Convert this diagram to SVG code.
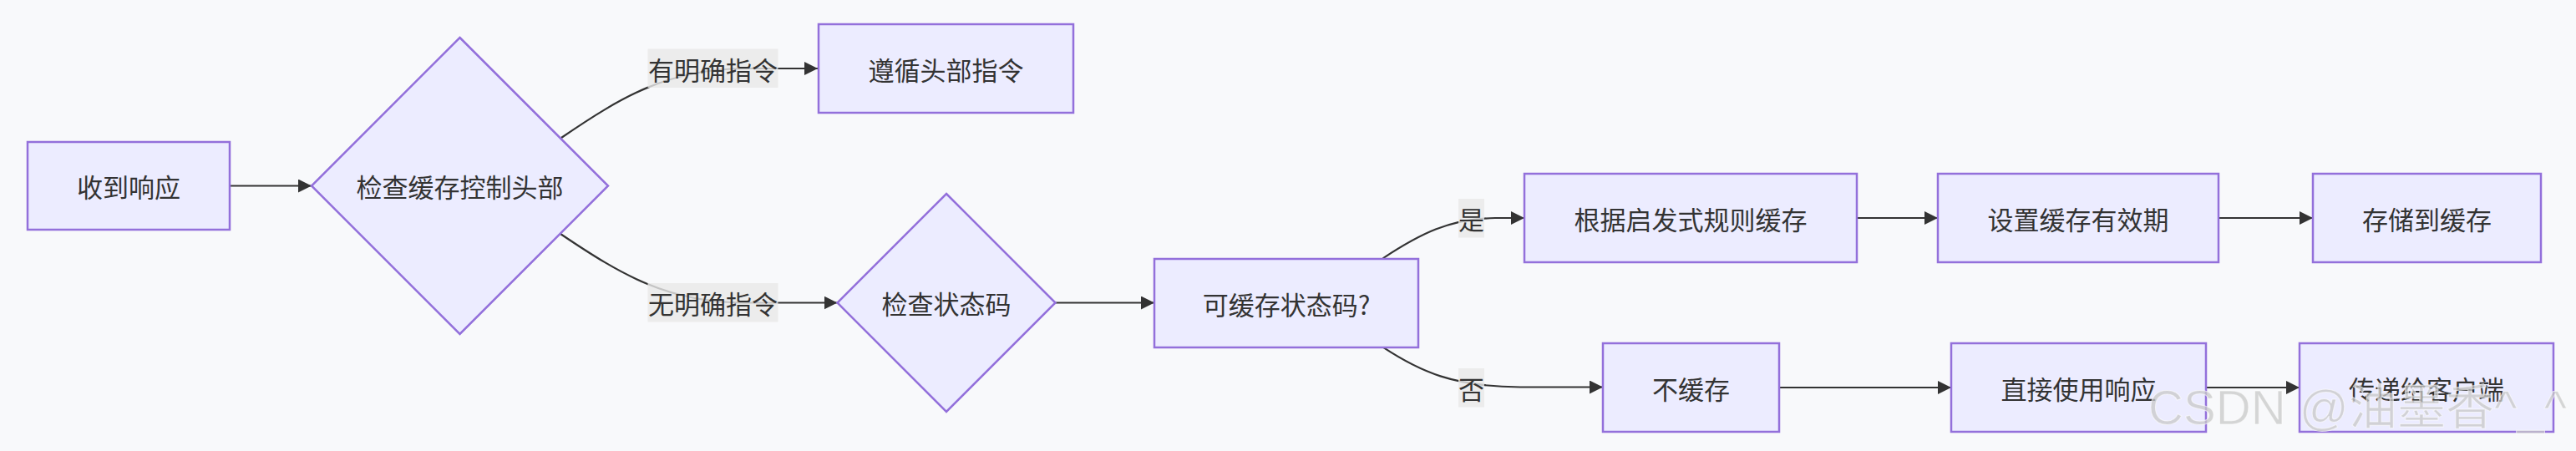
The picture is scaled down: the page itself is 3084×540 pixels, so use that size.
<svg xmlns="http://www.w3.org/2000/svg" width="3084" height="540" viewBox="0 0 3084 540">
<defs>
<marker id="arrow" viewBox="0 0 10 10" refX="10" refY="5" markerUnits="userSpaceOnUse" markerWidth="16" markerHeight="16" orient="auto">
<path d="M0,0 L10,5 L0,10 z" fill="#333333"/>
</marker>
<style>
.node rect, .node polygon { fill: #ECECFF; stroke: #9370DB; stroke-width: 2.5; }
.node text, .lbl text { font-family: "Noto Sans CJK SC", "Liberation Sans", sans-serif; font-size: 31px; fill: #333333; text-anchor: middle; dominant-baseline: central; }
.edge { fill: none; stroke: #333333; stroke-width: 2.2; marker-end: url(#arrow); }
.lbl rect { fill: #e8e8e8; fill-opacity: 0.8; }
.wm { font-family: "Liberation Sans", "Noto Sans CJK SC", sans-serif; font-size: 58px; fill: #c8c8c8; fill-opacity: 0.75; stroke: #ffffff; stroke-width: 1; stroke-opacity: 0.6; }
</style>
</defs>
<rect x="0" y="0" width="3084" height="540" fill="#f8f9fb"/>

<g id="connectors">
<path class="edge" d="M275,222.5 L373,222.5"/>
<path class="edge" d="M672,165 C745,115 800,83 890,82 L979,82"/>
<path class="edge" d="M671,280 C745,330 800,362 890,362.5 L1002.5,362.5"/>
<path class="edge" d="M1263.5,362.5 L1382,362.5"/>
<path class="edge" d="M1655.6,309.3 C1700,280 1735,262 1790,261 L1825,261"/>
<path class="edge" d="M1655.6,415.7 C1700,445 1740,463 1820,463.5 L1919,463.5"/>
<path class="edge" d="M2223,261 L2320,261"/>
<path class="edge" d="M2656,261 L2769,261"/>
<path class="edge" d="M2130,464 L2336,464"/>
<path class="edge" d="M2641,464 L2753,464"/>
</g>

<g id="edge-labels">
<g class="lbl" id="lbl-yes-directive"><rect x="775.5" y="58.5" width="156" height="46.5"/><text x="853.5" y="82">有明确指令</text></g>
<g class="lbl" id="lbl-no-directive"><rect x="775.5" y="339" width="156" height="46.5"/><text x="853.5" y="362">无明确指令</text></g>
<g class="lbl" id="lbl-yes"><rect x="1746" y="238" width="31" height="46.5"/><text x="1761.5" y="261">是</text></g>
<g class="lbl" id="lbl-no"><rect x="1746" y="441" width="31" height="46.5"/><text x="1761.5" y="464">否</text></g>
</g>

<g class="node" id="A"><rect x="33" y="170" width="242" height="105"/><text x="154" y="222.5">收到响应</text></g>
<g class="node" id="B"><polygon points="550.5,45 728,222.5 550.5,400 373,222.5"/><text x="550.5" y="222.5">检查缓存控制头部</text></g>
<g class="node" id="C"><rect x="980" y="29" width="305" height="106"/><text x="1132.5" y="82">遵循头部指令</text></g>
<g class="node" id="D"><polygon points="1133,232 1263.5,362.5 1133,493 1002.5,362.5"/><text x="1133" y="362.5">检查状态码</text></g>
<g class="node" id="E"><rect x="1382" y="310" width="316" height="106"/><text x="1540" y="363">可缓存状态码?</text></g>
<g class="node" id="F"><rect x="1825" y="208" width="398" height="106"/><text x="2024" y="261">根据启发式规则缓存</text></g>
<g class="node" id="G"><rect x="2320" y="208" width="336" height="106"/><text x="2488" y="261">设置缓存有效期</text></g>
<g class="node" id="H"><rect x="2769" y="208" width="273" height="106"/><text x="2905.5" y="261">存储到缓存</text></g>
<g class="node" id="I"><rect x="1919" y="411" width="211" height="106"/><text x="2024.5" y="464">不缓存</text></g>
<g class="node" id="J"><rect x="2336" y="411" width="305" height="106"/><text x="2488.5" y="464">直接使用响应</text></g>
<g class="node" id="K"><rect x="2753" y="411" width="304" height="106"/><text x="2905" y="464">传递给客户端</text></g>

<text class="wm" x="2572" y="508" textLength="501" lengthAdjust="spacingAndGlyphs">CSDN @油墨香^_^</text>
</svg>
